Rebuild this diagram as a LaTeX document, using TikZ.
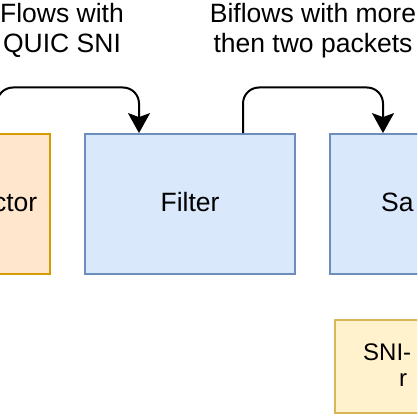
\documentclass[tikz,border=0pt]{standalone}
\usepackage{fontspec}
\setmainfont{Liberation Sans}
\usetikzlibrary{arrows.meta}
\definecolor{orangeFill}{HTML}{FFE6CC}
\definecolor{orangeLine}{HTML}{D79B00}
\definecolor{blueFill}{HTML}{DAE8FC}
\definecolor{blueLine}{HTML}{6C8EBF}
\definecolor{yellowFill}{HTML}{FFF2CC}
\definecolor{yellowLine}{HTML}{D6B656}
\begin{document}
\begin{tikzpicture}[x=1pt,y=-1pt,
  box/.style={draw, line width=1.8pt, inner sep=0pt, minimum width=210pt, minimum height=140pt,
    text height=19.3pt, text depth=5pt, font=\fontsize{26.5}{30}\selectfont},
  orangebox/.style={box, fill=orangeFill, draw=orangeLine},
  bluebox/.style={box, fill=blueFill, draw=blueLine},
  yellowbox/.style={box, fill=yellowFill, draw=yellowLine, minimum height=93pt},
  lbl/.style={inner sep=0pt, font=\fontsize{26.5}{30}\selectfont},
  smalllbl/.style={inner sep=0pt, font=\fontsize{24}{26}\selectfont},
  conn/.style={line width=2pt, rounded corners=16pt, -{Stealth[width=22pt,length=20pt,inset=4pt]}}]
\useasboundingbox (0,0) rectangle (417,417);
\fill[white] (0,0) rectangle (417,417);
\clip (0,0) rectangle (417,417);

\node[orangebox] (ext) at (-55,204) {};
\node[bluebox] (filter) at (190,204) {Filter};
\node[bluebox] (sampler) at (435,204) {};
\node[yellowbox] (sni) at (440,366.5) {};

\node[lbl, anchor=base east] (extlbl) at (37.5,211) {ctor};
\node[lbl, anchor=base west] (samplbl) at (381,211) {Sa};
\node[smalllbl, anchor=base west] (snilblA) at (363,360) {SNI-};
\node[smalllbl, anchor=base west] (snilblB) at (399,386) {r};

\node[lbl, align=center, anchor=base] (flowtxt) at (62,53) {Flows with\\QUIC SNI};
\node[lbl, align=center, anchor=base] (biflowtxt) at (313,53) {Biflows with more\\then two packets};

\coordinate (hop) at (0,87.5);
\coordinate (a1s) at ([xshift=52pt]ext.north);
\coordinate (a1e) at ([xshift=-51pt]filter.north);
\coordinate (a2s) at ([xshift=53pt]filter.north);
\coordinate (a2e) at ([xshift=-52pt]sampler.north);
\draw[conn] (a1s) -- (a1s |- hop) -- (a1e |- hop) -- (a1e);
\draw[conn] (a2s) -- (a2s |- hop) -- (a2e |- hop) -- (a2e);
\end{tikzpicture}
\end{document}
